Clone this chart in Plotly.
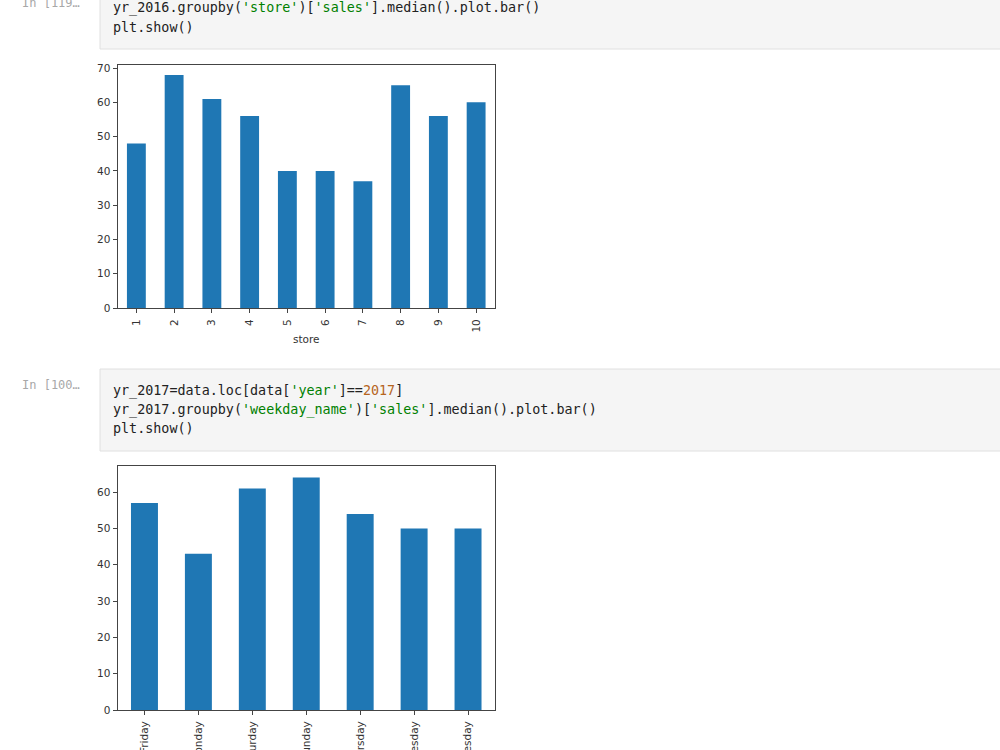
import plotly.graph_objs as go

W = 1000
H = 750

stores = ['1', '2', '3', '4', '5', '6', '7', '8', '9', '10']
store_sales = [48, 68, 61, 56, 40, 40, 37, 65, 56, 60]

weekdays = ['Friday', 'Monday', 'Saturday', 'Sunday', 'Thursday', 'Tuesday', 'Wednesday']
weekday_sales = [57, 43, 61, 64, 54, 50, 50]

GREEN = '#008000'
ORANGE = '#b5651d'


def s(text):  # string literal in the code cell
    return "<span style='color:%s'>%s</span>" % (GREEN, text)


cell1_lines = [
    "yr_2016.groupby(" + s("'store'") + ")[" + s("'sales'") + "].median().plot.bar()",
    "plt.show()",
]
cell2_lines = [
    "yr_2017=data.loc[data[" + s("'year'") + "]==<span style='color:%s'>2017</span>]" % ORANGE,
    "yr_2017.groupby(" + s("'weekday_name'") + ")[" + s("'sales'") + "].median().plot.bar()",
    "plt.show()",
]


def px(x):
    return x / W


def py(y):
    return 1 - y / H


def code(text, x, y, color='#222222', size=13.4):
    return dict(text=text, x=px(x), y=py(y), xref='paper', yref='paper',
                xanchor='left', yanchor='middle', showarrow=False,
                font=dict(family='DejaVu Sans Mono', size=size, color=color))


def cell(y0, y1):
    return dict(type='rect', xref='paper', yref='paper', layer='below',
                x0=px(100), x1=px(1005), y0=py(y0), y1=py(y1),
                fillcolor='#f5f5f5', line=dict(color='#e0e0e0', width=1))


bar_color = '#1f77b4'

trace = go.Bar(x=stores, y=store_sales, width=0.5, marker=dict(color=bar_color, line=dict(width=0)),
               xaxis='x', yaxis='y')
trace2 = go.Bar(x=weekdays, y=weekday_sales, width=0.5, marker=dict(color=bar_color, line=dict(width=0)),
                xaxis='x2', yaxis='y2')

axis = dict(showgrid=False, zeroline=False, showline=True, mirror=True, linecolor='#444444', linewidth=1,
            ticks='outside', ticklen=4, tickwidth=1, tickcolor='#444444', automargin=False,
            tickfont=dict(family='DejaVu Sans', size=10.5, color='#333333'))

annotations = [code('In [119…', 20, 3, '#a8a8a8', 12)]
annotations += [code(line, 111, y) for line, y in zip(cell1_lines, [8.5, 27])]
annotations += [code('In [100…', 20, 385, '#a8a8a8', 12)]
annotations += [code(line, 111, 391 + i * 19) for i, line in enumerate(cell2_lines)]

layout = go.Layout(
    width=W, height=H, margin=dict(l=0, r=0, t=0, b=0),
    paper_bgcolor='white', plot_bgcolor='white', showlegend=False,
    xaxis=dict(axis, domain=[px(117.5), px(495)], anchor='y', type='category', range=[-0.5, 9.5], tickangle=-90,
               ticklabelstandoff=2,
               title=dict(text='store', standoff=4, font=dict(family='DejaVu Sans', size=10.5, color='#333333'))),
    yaxis=dict(axis, domain=[py(308), py(65)], anchor='x', range=[0, 70.9], tickvals=list(range(0, 71, 10))),
    xaxis2=dict(axis, domain=[px(117.5), px(495)], anchor='y2', type='category', range=[-0.5, 6.5], tickangle=-90,
                ticklabelstandoff=2),
    yaxis2=dict(axis, domain=[py(710), py(466)], anchor='x2', range=[0, 67.2], tickvals=list(range(0, 61, 10))),
    shapes=[cell(-5, 49), cell(369, 451)],
    annotations=annotations,
)

fig = go.Figure(data=[trace, trace2], layout=layout)
fig.write_html('out.html', config=dict(displayModeBar=False),
               post_script="document.body.style.margin='0';document.body.style.overflow='hidden';")
